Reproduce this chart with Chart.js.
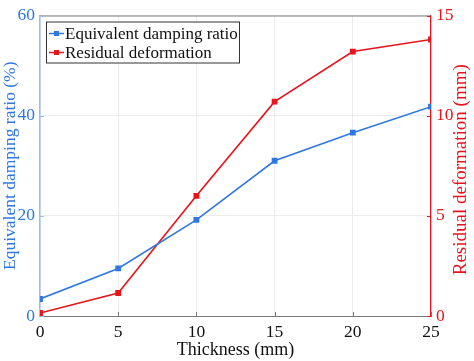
<!DOCTYPE html>
<html>
<head>
<meta charset="utf-8">
<script src="https://cdn.jsdelivr.net/npm/chart.js@4"></script>
<style>
  html, body { margin: 0; padding: 0; background: #fff; }
  #wrap { width: 474px; height: 361px; }
</style>
</head>
<body>
<div id="wrap"><canvas id="chart"></canvas></div>
<script>
// Data
const thickness = [0, 5, 10, 15, 20, 25];
const dampingRatio = [3.4, 9.5, 19.2, 31.0, 36.6, 41.8];
const residualDeformation = [0.15, 1.15, 6.0, 10.7, 13.2, 13.8];
const xTicks = [0, 5, 10, 15, 20, 25];
const leftTicks = [0, 20, 40, 60];
const rightTicks = [0, 5, 10, 15];
const rightTitle = 'Residual deformation (mm)';

const BLUE = '#2f78e4';
const BLUE_AXIS = '#9dbcf0';
const RED = '#e8141c';
const SERIF = '"Liberation Serif", "DejaVu Serif", serif';

const toPoints = (ys) => thickness.map((x, i) => ({ x: x, y: ys[i] }));

// Box around the plot, inward ticks, right title (reads bottom-up) and legend
const frameAndLegend = {
    id: 'frameAndLegend',
    beforeDatasetsDraw(chart) {
        const { ctx, chartArea: a, scales } = chart;
        ctx.save();
        ctx.strokeStyle = '#7a7a7a';
        ctx.lineWidth = 1;
        ctx.beginPath();
        ctx.moveTo(a.left, a.top + 0.5);
        ctx.lineTo(a.right, a.top + 0.5);
        ctx.stroke();

        // inward tick marks
        ctx.beginPath();
        xTicks.forEach(v => {
            const px = Math.round(scales.x.getPixelForValue(v)) + 0.5;
            ctx.moveTo(px, a.bottom);
            ctx.lineTo(px, a.bottom - 4);
        });
        ctx.stroke();
        ctx.strokeStyle = BLUE_AXIS;
        ctx.beginPath();
        leftTicks.forEach(v => {
            const py = Math.round(scales.y.getPixelForValue(v)) + 0.5;
            ctx.moveTo(a.left, py);
            ctx.lineTo(a.left + 4, py);
        });
        ctx.stroke();
        ctx.strokeStyle = RED;
        ctx.beginPath();
        rightTicks.forEach(v => {
            const py = Math.round(scales.y1.getPixelForValue(v)) + 0.5;
            ctx.moveTo(a.right, py);
            ctx.lineTo(a.right - 4, py);
        });
        ctx.stroke();

        // right axis title, rotated the same way as the left one
        ctx.translate(461, (a.top + a.bottom) / 2 + 4);
        ctx.rotate(-Math.PI / 2);
        ctx.fillStyle = RED;
        ctx.font = '19px ' + SERIF;
        ctx.textAlign = 'center';
        ctx.textBaseline = 'middle';
        ctx.fillText(rightTitle, 0, 0);
        ctx.restore();
    },
    afterDraw(chart) {
        const { ctx, chartArea: a } = chart;
        const x0 = a.left + 6, y0 = a.top + 6;
        const w = 193, h = 41;
        ctx.save();
        ctx.fillStyle = '#fff';
        ctx.fillRect(x0, y0, w, h);
        ctx.strokeStyle = '#333';
        ctx.lineWidth = 1;
        ctx.strokeRect(x0 + 0.5, y0 + 0.5, w, h);
        ctx.font = '17px ' + SERIF;
        ctx.textBaseline = 'middle';
        chart.data.datasets.forEach((ds, i) => {
            const cy = y0 + 12 + i * 19;
            ctx.strokeStyle = ds.borderColor;
            ctx.lineWidth = 1.5;
            ctx.beginPath();
            ctx.moveTo(x0 + 3, cy);
            ctx.lineTo(x0 + 18, cy);
            ctx.stroke();
            ctx.fillStyle = ds.borderColor;
            ctx.fillRect(x0 + 8, cy - 2.5, 5, 5);
            ctx.fillStyle = '#111';
            ctx.fillText(ds.label, x0 + 19, cy + 1);
        });
        ctx.restore();
    }
};

new Chart(document.getElementById('chart'), {
    type: 'line',
    data: {
        datasets: [
            {
                label: 'Equivalent damping ratio',
                data: toPoints(dampingRatio),
                yAxisID: 'y',
                borderColor: BLUE,
                backgroundColor: BLUE,
                borderWidth: 1.6,
                pointStyle: 'rect',
                pointRadius: 3,
                tension: 0
            },
            {
                label: 'Residual deformation',
                data: toPoints(residualDeformation),
                yAxisID: 'y1',
                borderColor: RED,
                backgroundColor: RED,
                borderWidth: 1.6,
                pointStyle: 'rect',
                pointRadius: 3,
                tension: 0
            }
        ]
    },
    options: {
        responsive: true,
        maintainAspectRatio: false,
        animation: false,
        layout: { padding: { top: 6, left: 0, right: 0, bottom: 0 } },
        plugins: {
            legend: { display: false },
            tooltip: { enabled: false }
        },
        scales: {
            x: {
                type: 'linear',
                min: 0,
                max: 25,
                afterBuildTicks: (s) => { s.ticks = xTicks.map(v => ({ value: v })); },
                afterFit: (s) => { s.height = 45; },
                grid: { color: '#ececec', drawTicks: false },
                border: { color: '#7a7a7a' },
                ticks: {
                    color: '#111',
                    padding: 6,
                    font: { family: SERIF, size: 17.5 }
                },
                title: {
                    display: true,
                    text: 'Thickness (mm)',
                    color: '#111',
                    padding: { top: 0, bottom: 0 },
                    font: { family: SERIF, size: 18 }
                }
            },
            y: {
                position: 'left',
                min: 0,
                max: 60,
                afterBuildTicks: (s) => { s.ticks = leftTicks.map(v => ({ value: v })); },
                afterFit: (s) => { s.width = 40; },
                grid: { color: '#ececec', drawTicks: false },
                border: { color: BLUE_AXIS, width: 1.5 },
                ticks: {
                    color: BLUE,
                    padding: 5,
                    font: { family: SERIF, size: 17.5 }
                },
                title: {
                    display: true,
                    text: 'Equivalent damping ratio (%)',
                    color: BLUE,
                    padding: { top: 0, bottom: 0 },
                    font: { family: SERIF, size: 17.5 }
                }
            },
            y1: {
                position: 'right',
                min: 0,
                max: 15,
                afterBuildTicks: (s) => { s.ticks = rightTicks.map(v => ({ value: v })); },
                afterFit: (s) => { s.width = 43; },
                grid: { drawOnChartArea: false, drawTicks: false },
                border: { color: RED, width: 1.2 },
                ticks: {
                    color: RED,
                    padding: 5,
                    font: { family: SERIF, size: 17.5 }
                },
                title: { display: false }
            }
        }
    },
    plugins: [frameAndLegend]
});
</script>
</body>
</html>
